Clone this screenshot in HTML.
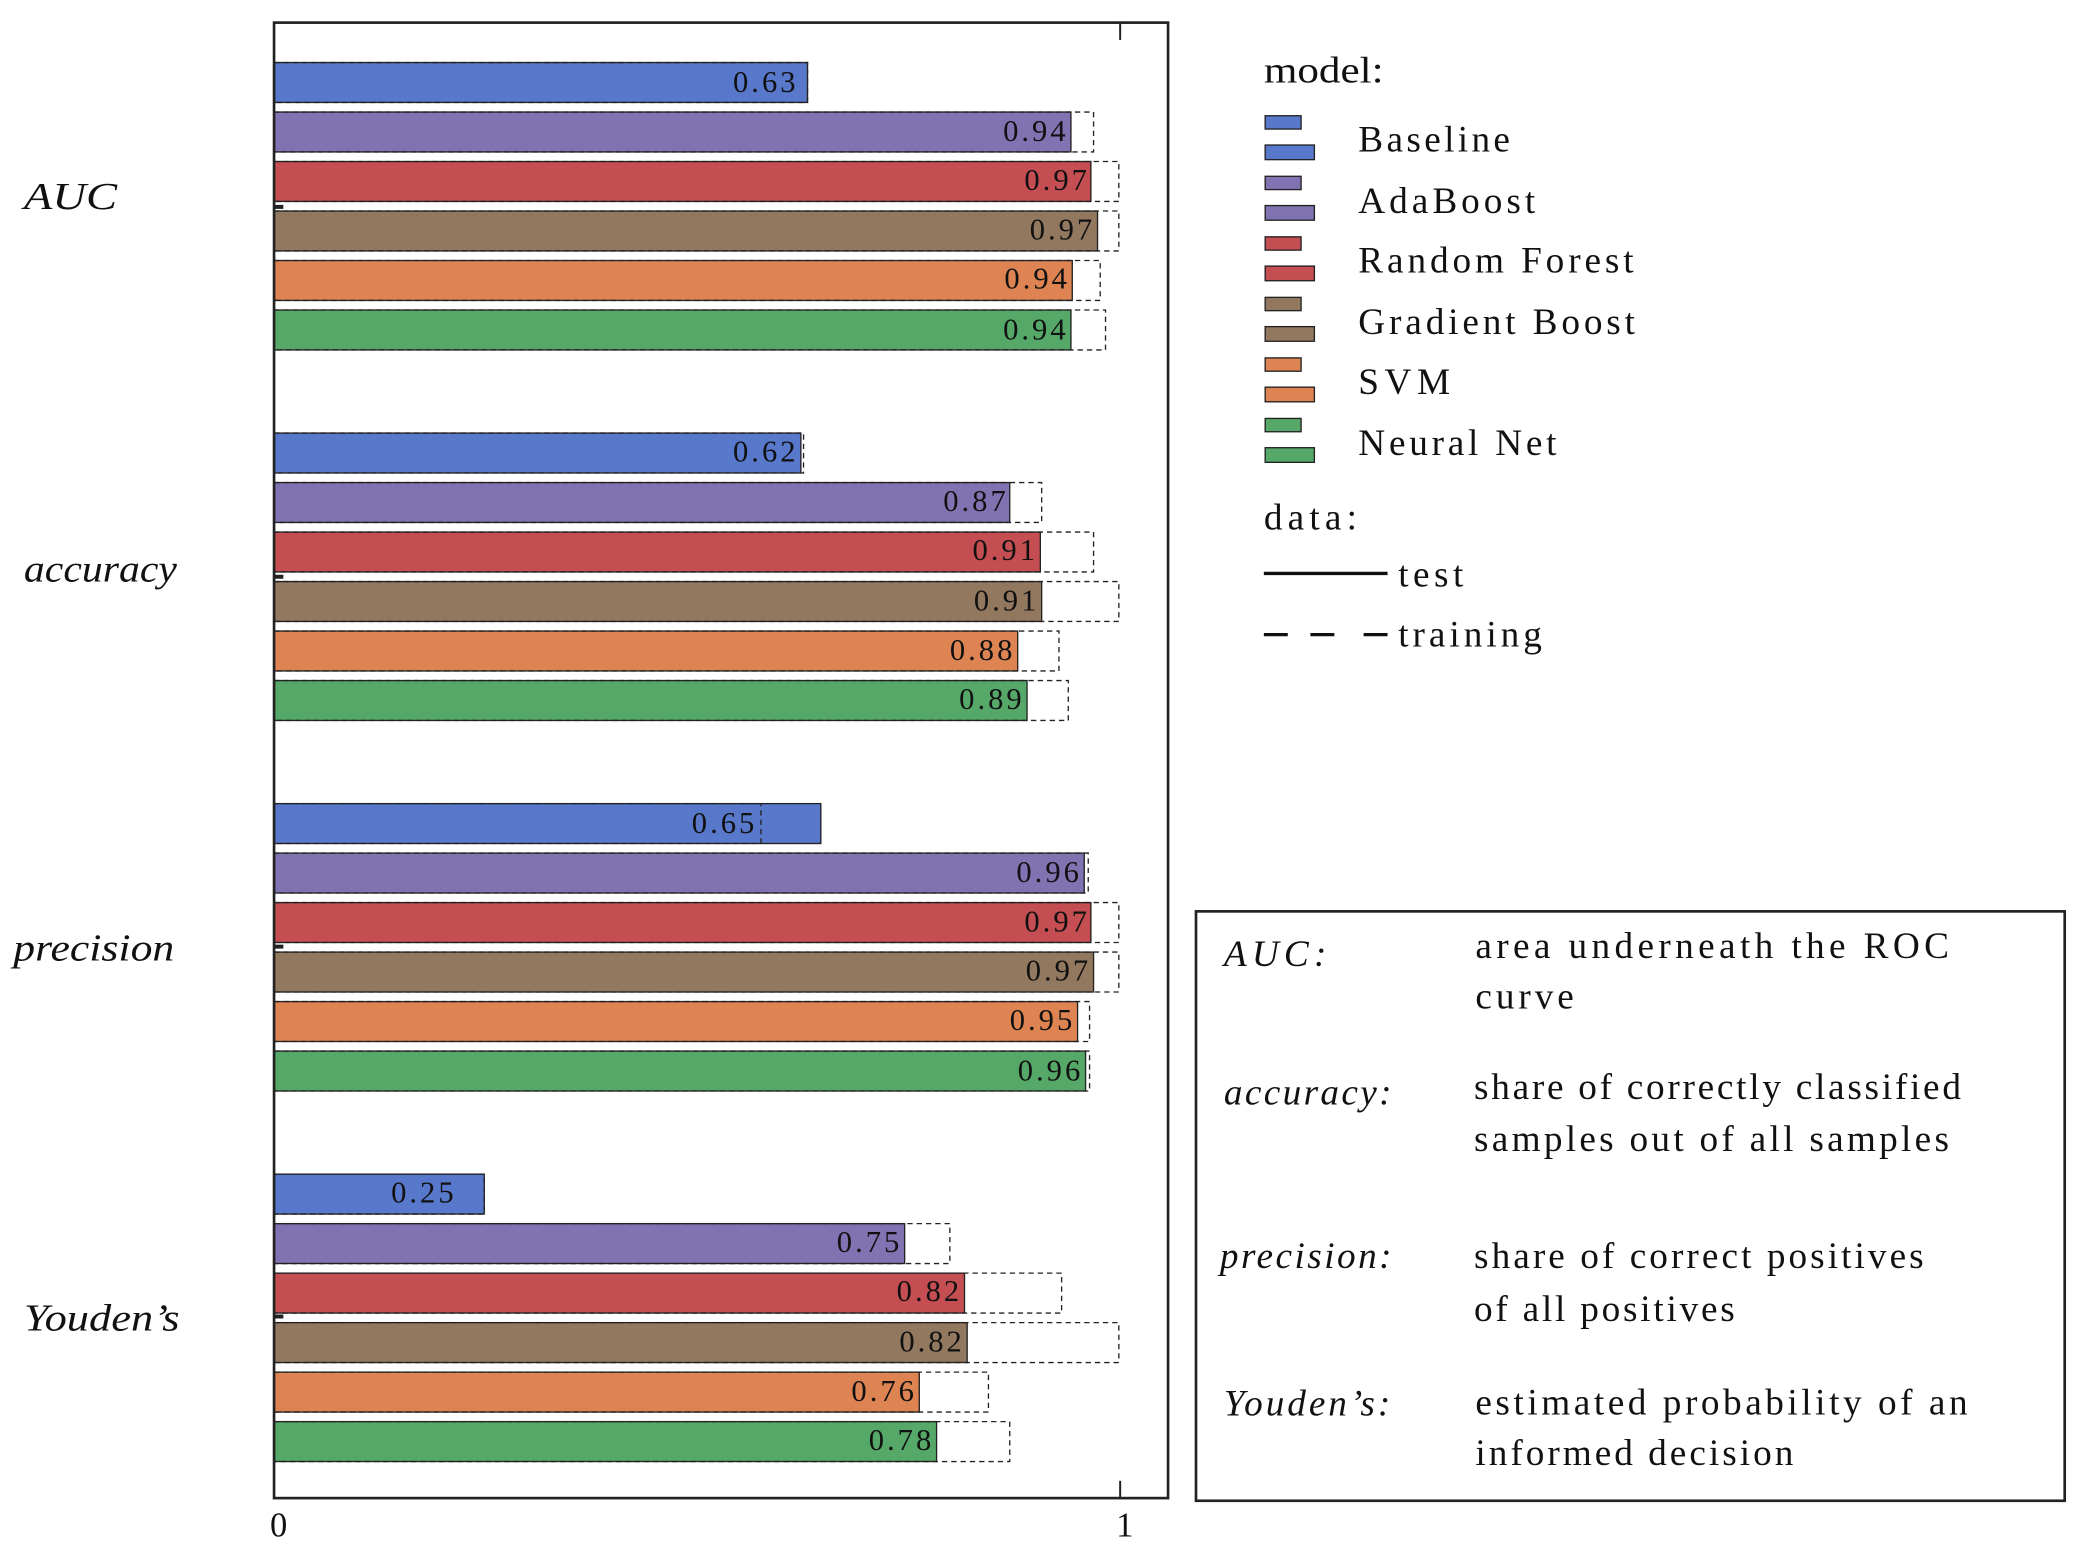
<!DOCTYPE html>
<html><head><meta charset="utf-8"><style>
html,body{margin:0;padding:0;background:#fff;}
svg{display:block;}
text{font-family:"Liberation Serif","DejaVu Serif",serif;fill:#111;}
.v{font-size:23px;text-anchor:end;}
.yl{font-size:29px;font-style:italic;}
.lg{font-size:28px;}
.bx{font-size:28px;}
.it{font-style:italic;}
</style></head><body>
<svg width="2086" height="1550" viewBox="0 0 1568 1165" preserveAspectRatio="none" xmlns="http://www.w3.org/2000/svg">
<rect width="1568" height="1165" fill="#fff"/>
<g stroke="#222" stroke-width="1">
<rect x="206" y="47" width="401" height="30" fill="#5778cb"/><rect x="206" y="47" width="401" height="30" fill="none" stroke-dasharray="4,3"/>
<rect x="206" y="84.2" width="599" height="30" fill="#8172b2"/><rect x="206" y="84.2" width="616" height="30" fill="none" stroke-dasharray="4,3"/>
<rect x="206" y="121.4" width="614" height="30" fill="#c44e52"/><rect x="206" y="121.4" width="635" height="30" fill="none" stroke-dasharray="4,3"/>
<rect x="206" y="158.6" width="619" height="30" fill="#937860"/><rect x="206" y="158.6" width="635" height="30" fill="none" stroke-dasharray="4,3"/>
<rect x="206" y="195.8" width="600" height="30" fill="#dd8452"/><rect x="206" y="195.8" width="621" height="30" fill="none" stroke-dasharray="4,3"/>
<rect x="206" y="233" width="599" height="30" fill="#55a868"/><rect x="206" y="233" width="625" height="30" fill="none" stroke-dasharray="4,3"/>
<rect x="206" y="325.5" width="396" height="30" fill="#5778cb"/><rect x="206" y="325.5" width="398" height="30" fill="none" stroke-dasharray="4,3"/>
<rect x="206" y="362.7" width="553" height="30" fill="#8172b2"/><rect x="206" y="362.7" width="577" height="30" fill="none" stroke-dasharray="4,3"/>
<rect x="206" y="399.9" width="576" height="30" fill="#c44e52"/><rect x="206" y="399.9" width="616" height="30" fill="none" stroke-dasharray="4,3"/>
<rect x="206" y="437.1" width="577" height="30" fill="#937860"/><rect x="206" y="437.1" width="635" height="30" fill="none" stroke-dasharray="4,3"/>
<rect x="206" y="474.3" width="559" height="30" fill="#dd8452"/><rect x="206" y="474.3" width="590" height="30" fill="none" stroke-dasharray="4,3"/>
<rect x="206" y="511.5" width="566" height="30" fill="#55a868"/><rect x="206" y="511.5" width="597" height="30" fill="none" stroke-dasharray="4,3"/>
<rect x="206" y="604" width="411" height="30" fill="#5778cb"/><rect x="206" y="604" width="366" height="30" fill="none" stroke-dasharray="4,3"/>
<rect x="206" y="641.2" width="609" height="30" fill="#8172b2"/><rect x="206" y="641.2" width="612" height="30" fill="none" stroke-dasharray="4,3"/>
<rect x="206" y="678.4" width="614" height="30" fill="#c44e52"/><rect x="206" y="678.4" width="635" height="30" fill="none" stroke-dasharray="4,3"/>
<rect x="206" y="715.6" width="616" height="30" fill="#937860"/><rect x="206" y="715.6" width="635" height="30" fill="none" stroke-dasharray="4,3"/>
<rect x="206" y="752.8" width="604" height="30" fill="#dd8452"/><rect x="206" y="752.8" width="613" height="30" fill="none" stroke-dasharray="4,3"/>
<rect x="206" y="790" width="610" height="30" fill="#55a868"/><rect x="206" y="790" width="613" height="30" fill="none" stroke-dasharray="4,3"/>
<rect x="206" y="882.5" width="158" height="30" fill="#5778cb"/><rect x="206" y="882.5" width="158" height="30" fill="none" stroke-dasharray="4,3"/>
<rect x="206" y="919.7" width="474" height="30" fill="#8172b2"/><rect x="206" y="919.7" width="508" height="30" fill="none" stroke-dasharray="4,3"/>
<rect x="206" y="956.9" width="519" height="30" fill="#c44e52"/><rect x="206" y="956.9" width="592" height="30" fill="none" stroke-dasharray="4,3"/>
<rect x="206" y="994.1" width="521" height="30" fill="#937860"/><rect x="206" y="994.1" width="635" height="30" fill="none" stroke-dasharray="4,3"/>
<rect x="206" y="1031.3" width="485" height="30" fill="#dd8452"/><rect x="206" y="1031.3" width="537" height="30" fill="none" stroke-dasharray="4,3"/>
<rect x="206" y="1068.5" width="498" height="30" fill="#55a868"/><rect x="206" y="1068.5" width="553" height="30" fill="none" stroke-dasharray="4,3"/>
</g>
<g lengthAdjust="spacingAndGlyphs">
<text class="v" x="598" y="69" textLength="47">0.63</text>
<text class="v" x="801" y="106" textLength="47">0.94</text>
<text class="v" x="817" y="143" textLength="47">0.97</text>
<text class="v" x="821" y="180" textLength="47">0.97</text>
<text class="v" x="802" y="217" textLength="47">0.94</text>
<text class="v" x="801" y="255" textLength="47">0.94</text>
<text class="v" x="598" y="347" textLength="47">0.62</text>
<text class="v" x="756" y="384" textLength="47">0.87</text>
<text class="v" x="778" y="421" textLength="47">0.91</text>
<text class="v" x="779" y="459" textLength="47">0.91</text>
<text class="v" x="761" y="496" textLength="47">0.88</text>
<text class="v" x="768" y="533" textLength="47">0.89</text>
<text class="v" x="567" y="626" textLength="47">0.65</text>
<text class="v" x="811" y="663" textLength="47">0.96</text>
<text class="v" x="817" y="700" textLength="47">0.97</text>
<text class="v" x="818" y="737" textLength="47">0.97</text>
<text class="v" x="806" y="774" textLength="47">0.95</text>
<text class="v" x="812" y="812" textLength="47">0.96</text>
<text class="v" x="341" y="904" textLength="47">0.25</text>
<text class="v" x="676" y="941" textLength="47">0.75</text>
<text class="v" x="721" y="978" textLength="47">0.82</text>
<text class="v" x="723" y="1016" textLength="47">0.82</text>
<text class="v" x="687" y="1053" textLength="47">0.76</text>
<text class="v" x="700" y="1090" textLength="47">0.78</text>
</g>
<rect x="206" y="17" width="672" height="1109" fill="none" stroke="#222" stroke-width="2"/>
<g stroke="#222" stroke-width="1.5">
<line x1="842" y1="17" x2="842" y2="30"/><line x1="842" y1="1113" x2="842" y2="1126"/>
</g>
<g fill="#222"><rect x="206" y="154" width="7" height="3"/><rect x="206" y="432" width="7" height="3"/><rect x="206" y="710" width="7" height="3"/><rect x="206" y="988" width="7" height="3"/></g>
<text class="yl" x="18" y="157" textLength="70" lengthAdjust="spacingAndGlyphs">AUC</text>
<text class="yl" x="18" y="437" textLength="115" lengthAdjust="spacingAndGlyphs">accuracy</text>
<text class="yl" x="10" y="722" textLength="121" lengthAdjust="spacingAndGlyphs">precision</text>
<text class="yl" x="18" y="1000" textLength="117" lengthAdjust="spacingAndGlyphs">Youden’s</text>
<text x="203" y="1155" style="font-size:26px">0</text>
<text x="839" y="1155" style="font-size:26px">1</text>
<text class="lg" x="950" y="62" textLength="90" lengthAdjust="spacingAndGlyphs">model:</text>
<g stroke="#222" stroke-width="1">
<rect x="951" y="87" width="27" height="10" fill="#5778cb"/><rect x="951" y="109" width="37" height="11" fill="#5778cb"/>
<rect x="951" y="132.5" width="27" height="10" fill="#8172b2"/><rect x="951" y="154.5" width="37" height="11" fill="#8172b2"/>
<rect x="951" y="178" width="27" height="10" fill="#c44e52"/><rect x="951" y="200" width="37" height="11" fill="#c44e52"/>
<rect x="951" y="223.5" width="27" height="10" fill="#937860"/><rect x="951" y="245.5" width="37" height="11" fill="#937860"/>
<rect x="951" y="269" width="27" height="10" fill="#dd8452"/><rect x="951" y="291" width="37" height="11" fill="#dd8452"/>
<rect x="951" y="314.5" width="27" height="10" fill="#55a868"/><rect x="951" y="336.5" width="37" height="11" fill="#55a868"/>
</g>
<g lengthAdjust="spacingAndGlyphs">
<text class="lg" x="1021" y="114" textLength="114">Baseline</text>
<text class="lg" x="1021" y="160" textLength="133">AdaBoost</text>
<text class="lg" x="1021" y="205" textLength="207">Random Forest</text>
<text class="lg" x="1021" y="251" textLength="208">Gradient Boost</text>
<text class="lg" x="1021" y="296" textLength="69">SVM</text>
<text class="lg" x="1021" y="342" textLength="149">Neural Net</text>
<text class="lg" x="950" y="398" textLength="70">data:</text>
<text class="lg" x="1051" y="441" textLength="49">test</text>
<text class="lg" x="1051" y="486" textLength="108">training</text>
</g>
<line x1="950" y1="431" x2="1043" y2="431" stroke="#111" stroke-width="2.5"/>
<g stroke="#111" stroke-width="2.5">
<line x1="950" y1="477" x2="968" y2="477"/><line x1="985" y1="477" x2="1003" y2="477"/><line x1="1025" y1="477" x2="1043" y2="477"/>
</g>
<rect x="899" y="685" width="653" height="443" fill="none" stroke="#222" stroke-width="2"/>
<g lengthAdjust="spacingAndGlyphs">
<text class="bx it" x="920" y="726" textLength="77">AUC:</text>
<text class="bx" x="1109" y="720" textLength="356">area underneath the ROC</text>
<text class="bx" x="1109" y="758" textLength="74">curve</text>
<text class="bx it" x="920" y="830" textLength="126">accuracy:</text>
<text class="bx" x="1108" y="826" textLength="366">share of correctly classified</text>
<text class="bx" x="1108" y="865" textLength="357">samples out of all samples</text>
<text class="bx it" x="917" y="953" textLength="129">precision:</text>
<text class="bx" x="1108" y="953" textLength="338">share of correct positives</text>
<text class="bx" x="1108" y="993" textLength="196">of all positives</text>
<text class="bx it" x="920" y="1064" textLength="125">Youden’s:</text>
<text class="bx" x="1109" y="1063" textLength="370">estimated probability of an</text>
<text class="bx" x="1109" y="1101" textLength="239">informed decision</text>
</g>
</svg>
</body></html>
